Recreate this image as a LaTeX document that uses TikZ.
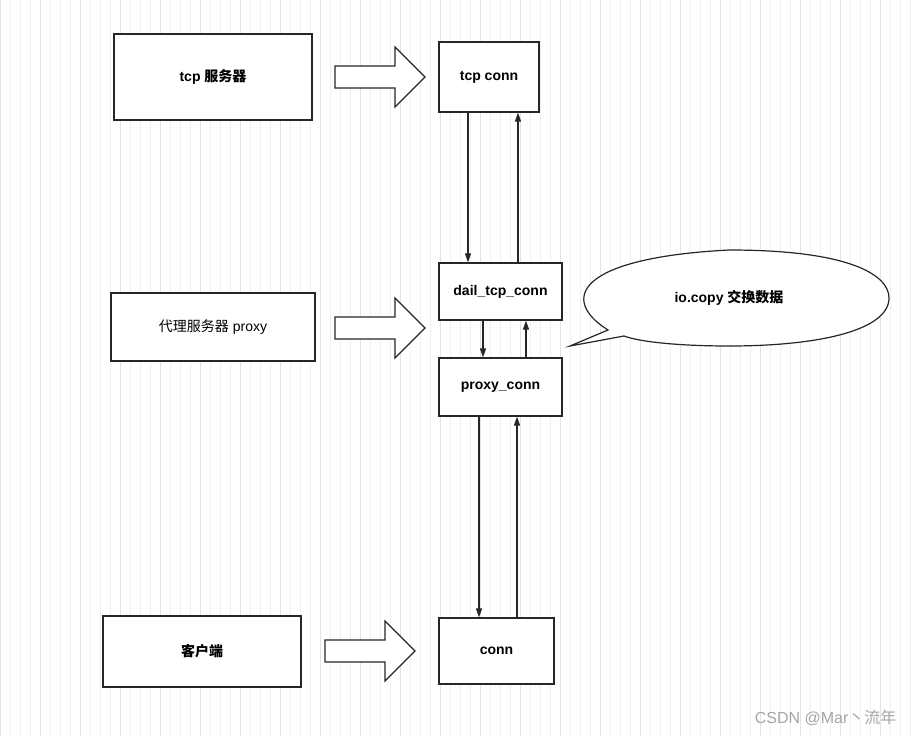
\documentclass[tikz,border=0pt]{standalone}
\usepackage{fontspec}
\setmainfont{Liberation Sans}
\newfontfamily\cjk{Noto Sans CJK SC}
\usetikzlibrary{arrows.meta}
\begin{document}
\begin{tikzpicture}[x=1pt,y=-1pt,
  box/.style={draw=black!85,line width=1.2pt,fill=white,font=\fontsize{14}{16}\selectfont},
  bx/.style={box,font=\fontsize{14}{16}\selectfont\bfseries},
  conn/.style={draw=black!85,line width=1.2pt,-{Triangle[length=9pt,width=6pt]}},
  blk/.style={draw=black!85,line width=1.2pt,fill=white,line join=miter}]
\useasboundingbox (0,0) rectangle (915,736);
\fill[white] (0,0) rectangle (915,736);
\draw[black!6,line width=0.5pt,step=10] (0,0) grid (915,736);
\draw[black!11,line width=0.5pt,step=40] (0,0) grid (915,736);
% boxes
\node[bx,minimum width=198,minimum height=86] (tcps) at (213,77) {tcp {\cjk\bfseries 服务器}};
\node[bx,minimum width=100,minimum height=70] (tcpc) at (489,77) {tcp conn};
\node[bx,minimum width=123,minimum height=57] (dail) at (500.5,291.5) {dail\_tcp\_conn};
\node[bx,minimum width=123,minimum height=58] (pc) at (500.5,387) {proxy\_conn};
\node[bx,minimum width=115,minimum height=66] (cn) at (496.5,651) {conn};
\node[box,minimum width=204,minimum height=68] (ps) at (213,327) {{\cjk 代理服务器} proxy};
\node[bx,minimum width=198,minimum height=71] (cl) at (202,651.5) {{\cjk\bfseries 客户端}};
% block arrows
\foreach \x/\y in {335/77,335/328,325/651}{
  \draw[blk] (\x,\y-11) -- (\x+60,\y-11) -- (\x+60,\y-30) -- (\x+90,\y) -- (\x+60,\y+30) -- (\x+60,\y+11) -- (\x,\y+11) -- cycle;
}
% connectors
\coordinate (a1) at (468,112); \coordinate (a2) at (468,263);
\coordinate (b1) at (518,263); \coordinate (b2) at (518,112);
\draw[conn] (tcpc.south -| a1) -- (dail.north -| a1);
\draw[conn] (dail.north -| b1) -- (tcpc.south -| b1);
\coordinate (c1) at (483,0); \coordinate (d1) at (526,0);
\draw[conn] (dail.south -| c1) -- (pc.north -| c1);
\draw[conn] (pc.north -| d1) -- (dail.south -| d1);
\coordinate (e1) at (479,0); \coordinate (f1) at (517,0);
\draw[conn] (pc.south -| e1) -- (cn.north -| e1);
\draw[conn] (cn.north -| f1) -- (pc.south -| f1);
% callout
\draw[blk] (608,330) .. controls (560,300) and (575,258) .. (729,250)
  .. controls (850,250) and (889,275) .. (889,298)
  .. controls (889,330) and (820,346) .. (729,346)
  .. controls (680,346) and (640,342) .. (624,336) -- (570,346) -- cycle;
\node[font=\fontsize{14}{16}\selectfont\bfseries] (io) at (729,298) {io.copy {\cjk\bfseries 交换数据}};
\node[text=black!35,font=\fontsize{16}{18}\selectfont,anchor=east] (wm) at (900,718) {CSDN @Mar{\cjk 丶流年}};
\end{tikzpicture}
\end{document}
